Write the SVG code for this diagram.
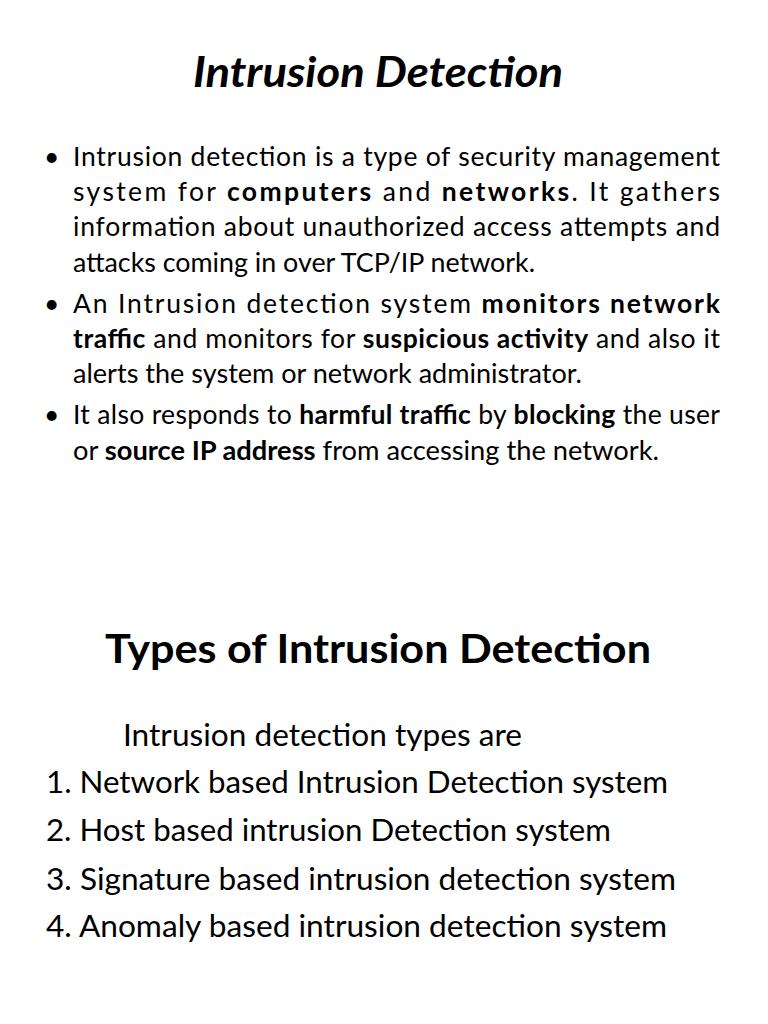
<svg xmlns="http://www.w3.org/2000/svg" width="768" height="1024" viewBox="0 0 768 1024">
<style>
text{font-family:Lato,"Open Sans","Liberation Sans",sans-serif;fill:#000}
.b{font-size:26.5px}
.l{font-size:31px}
.s{font-weight:bold}
</style>
<rect width="768" height="1024" fill="#fff"/>
<g id="title"><text x="193" y="87" font-size="42" font-weight="bold" font-style="italic" textLength="370" lengthAdjust="spacingAndGlyphs">Intrusion Detection</text></g>
<g id="bullets">
<text x="44" y="166" class="b">•</text>
<text x="73" y="166" class="b" textLength="647" lengthAdjust="spacing">Intrusion detection is a type of security management</text>
<text x="73" y="201" class="b" textLength="647" lengthAdjust="spacing">system for <tspan class="s">computers</tspan> and <tspan class="s">networks</tspan>. It gathers</text>
<text x="73" y="236" class="b" textLength="647" lengthAdjust="spacing">information about unauthorized access attempts and</text>
<text x="73" y="272" class="b" textLength="462" lengthAdjust="spacingAndGlyphs">attacks coming in over TCP/IP network.</text>
<text x="44" y="313" class="b">•</text>
<text x="73" y="313" class="b" textLength="647" lengthAdjust="spacing">An Intrusion detection system <tspan class="s">monitors network</tspan></text>
<text x="73" y="348" class="b" textLength="647" lengthAdjust="spacing"><tspan class="s">traffic</tspan> and monitors for <tspan class="s">suspicious activity</tspan> and also it</text>
<text x="73" y="383" class="b" textLength="509" lengthAdjust="spacingAndGlyphs">alerts the system or network administrator.</text>
<text x="44" y="424" class="b">•</text>
<text x="73" y="424" class="b" textLength="647" lengthAdjust="spacing">It also responds to <tspan class="s">harmful traffic</tspan> by <tspan class="s">blocking</tspan> the user</text>
<text x="73" y="460" class="b" textLength="586" lengthAdjust="spacingAndGlyphs">or <tspan class="s">source IP address</tspan> from accessing the network.</text>
</g>
<g id="heading2"><text x="105" y="663" font-size="41" font-weight="bold" textLength="546" lengthAdjust="spacingAndGlyphs">Types of Intrusion Detection</text></g>
<g id="list">
<text x="123" y="746" class="l" textLength="399" lengthAdjust="spacingAndGlyphs">Intrusion detection types are</text>
<text x="46" y="793" class="l" textLength="622" lengthAdjust="spacingAndGlyphs">1. Network based Intrusion Detection system</text>
<text x="46" y="841" class="l" textLength="565" lengthAdjust="spacingAndGlyphs">2. Host based intrusion Detection system</text>
<text x="46" y="890" class="l" textLength="630" lengthAdjust="spacingAndGlyphs">3. Signature based intrusion detection system</text>
<text x="46" y="937" class="l" textLength="621" lengthAdjust="spacingAndGlyphs">4. Anomaly based intrusion detection system</text>
</g>
</svg>
